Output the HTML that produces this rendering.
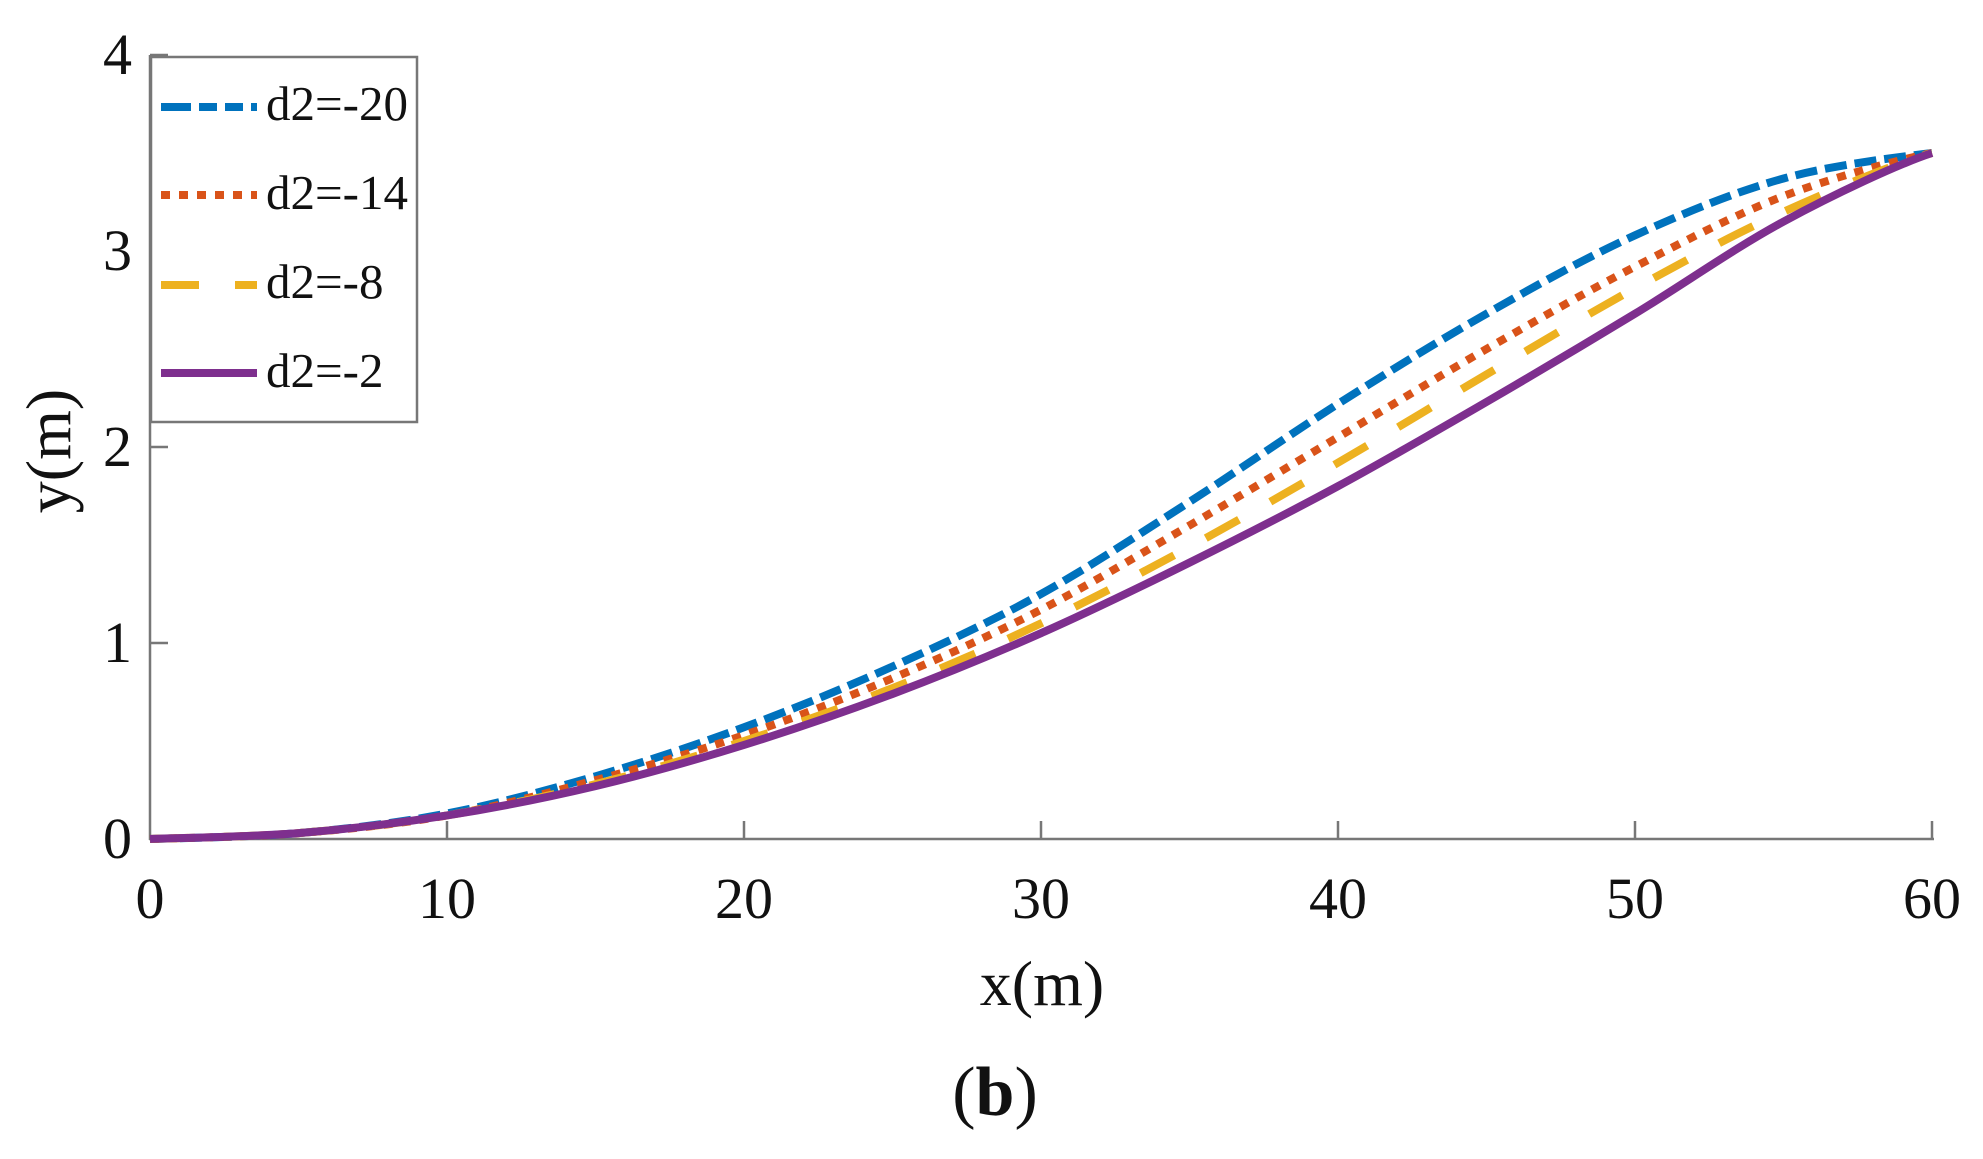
<!DOCTYPE html>
<html><head><meta charset="utf-8"><style>
body{margin:0;background:#fff}
svg text{font-family:"Liberation Serif",serif;fill:#111}
</style></head><body>
<svg id="s" width="1983" height="1154" xmlns="http://www.w3.org/2000/svg">
<g stroke="#777" stroke-width="2.5" fill="none">
<line x1="150" y1="55" x2="150" y2="840"/>
<line x1="149" y1="839" x2="1934" y2="839"/>
<line x1="150" y1="55" x2="168" y2="55"/>
<line x1="150" y1="251" x2="168" y2="251"/>
<line x1="150" y1="447" x2="168" y2="447"/>
<line x1="150" y1="643" x2="168" y2="643"/>
<line x1="447" y1="839" x2="447" y2="821"/>
<line x1="744" y1="839" x2="744" y2="821"/>
<line x1="1041" y1="839" x2="1041" y2="821"/>
<line x1="1338" y1="839" x2="1338" y2="821"/>
<line x1="1635" y1="839" x2="1635" y2="821"/>
<line x1="1932" y1="839" x2="1932" y2="821"/>
</g>
<g font-size="58" text-anchor="end">
<text x="132" y="74">4</text><text x="132" y="270">3</text>
<text x="132" y="466">2</text><text x="132" y="662">1</text><text x="132" y="858">0</text>
</g>
<g font-size="58" text-anchor="middle">
<text x="150" y="918">0</text><text x="447" y="918">10</text><text x="744" y="918">20</text>
<text x="1041" y="918">30</text><text x="1338" y="918">40</text><text x="1635" y="918">50</text><text x="1932" y="918">60</text>
</g>
<text x="1042" y="1005" font-size="64" text-anchor="middle">x(m)</text>
<text transform="translate(70,451) rotate(-90)" font-size="64" text-anchor="middle">y(m)</text>
<text x="995" y="1115" font-size="70" text-anchor="middle"><tspan>(</tspan><tspan font-weight="bold">b</tspan><tspan>)</tspan></text>
<g id="curves" fill="none" stroke-width="8"></g>
<rect x="151" y="57" width="266" height="365" fill="#fff" stroke="#777" stroke-width="2.5"/>
<g stroke-width="8">
<line x1="161" y1="107" x2="257" y2="107" stroke="#0072BD" stroke-dasharray="30 8 18 8 18 8"/>
<line x1="161" y1="195" x2="257" y2="195" stroke="#D95319" stroke-dasharray="9 9"/>
<line x1="161" y1="285" x2="257" y2="285" stroke="#EDB120" stroke-dasharray="38 36"/>
<line x1="161" y1="373" x2="257" y2="373" stroke="#7E2F8E"/>
</g>
<g font-size="49">
<text x="266" y="120">d2=-20</text><text x="266" y="209">d2=-14</text>
<text x="266" y="298">d2=-8</text><text x="266" y="387">d2=-2</text>
</g>
</svg>
<script>
var xs=[0,5,10,15,20,25,30,35,40,45,50,55,60];
var S=[
 ["#0072BD","22 8",[0,0.03,0.13,0.32,0.57,0.88,1.25,1.72,2.22,2.68,3.08,3.37,3.5]],
 ["#D95319","9 9",[0,0.03,0.12,0.3,0.53,0.82,1.17,1.6,2.05,2.5,2.92,3.28,3.5]],
 ["#EDB120","38 36",[0,0.03,0.12,0.28,0.5,0.77,1.1,1.49,1.92,2.37,2.81,3.2,3.5]],
 ["#7E2F8E","",[0,0.03,0.12,0.27,0.48,0.74,1.05,1.41,1.8,2.23,2.68,3.15,3.5]]];
function px(x){return 150+x*29.7} function py(y){return 839-y*196}
var g=document.getElementById('curves');
S.forEach(function(s){
 var P=xs.map(function(x,i){return [px(x),py(s[2][i])]});
 P.push([P[P.length-1][0]+60,P[P.length-1][1]]);
 var d="M"+P[0][0]+","+P[0][1];
 for(var i=0;i<P.length-2;i++){
  var p0=P[Math.max(i-1,0)],p1=P[i],p2=P[i+1],p3=P[i+2];
  var c1=[p1[0]+(p2[0]-p0[0])/6,p1[1]+(p2[1]-p0[1])/6];
  var c2=[p2[0]-(p3[0]-p1[0])/6,p2[1]-(p3[1]-p1[1])/6];
  d+=" C"+c1+" "+c2+" "+p2;
 }
 var e=document.createElementNS("http://www.w3.org/2000/svg","path");
 e.setAttribute("d",d);e.setAttribute("stroke",s[0]);
 if(s[1])e.setAttribute("stroke-dasharray",s[1]);
 g.appendChild(e);
});
</script>
</body></html>
